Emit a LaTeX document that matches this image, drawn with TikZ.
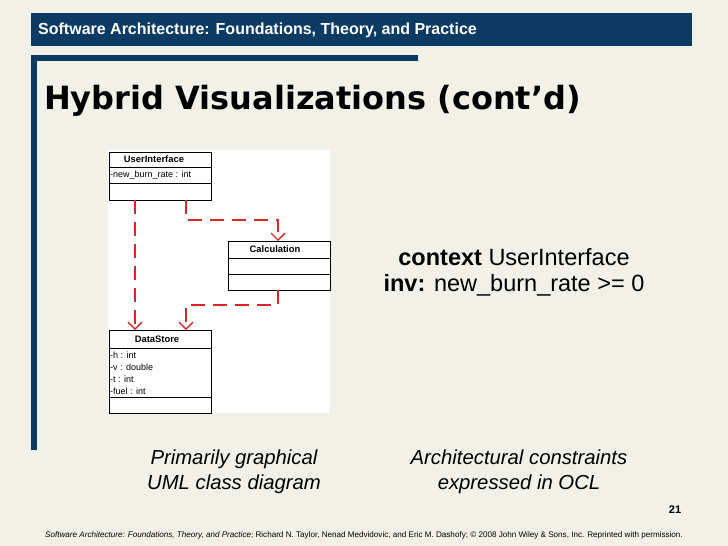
\documentclass[tikz,border=0pt]{standalone}
\usepackage{fontspec}
\setmainfont{Liberation Sans}
\newfontfamily\titlefont{DejaVu Sans}
\usetikzlibrary{arrows.meta}
\definecolor{navy}{HTML}{0B3A62}
\definecolor{bg}{HTML}{F2F1E7}
\definecolor{dred}{HTML}{D62828}
\begin{document}
\begin{tikzpicture}[x=1pt,y=-1pt,
  cls/.style={draw=black,line width=0.8pt,fill=white},
  dep/.style={draw=dred,line width=1.3pt,dash pattern=on 14pt off 8pt,-{Straight Barb[length=7pt,width=14pt]}},
  txt/.style={inner sep=0pt,anchor=west,font=\fontsize{9}{10}\selectfont}]
\fill[bg] (0,0) rectangle (728,546);
\useasboundingbox (0,0) rectangle (728,546);
\fill[navy] (31,13) rectangle (692,46);
\node[anchor=west,text=white,font=\bfseries\fontsize{16}{17}\selectfont,inner sep=0pt] (hdr) at (38,30) {Software Architecture: Foundations, Theory, and Practice};
\fill[navy] (31,55) rectangle (418,61);
\fill[navy] (31,55) rectangle (37,450);
\node[anchor=west,font=\titlefont\bfseries\fontsize{32}{36}\selectfont,inner sep=0pt] (title) at (44,101) {Hybrid Visualizations (cont’d)};
\fill[white] (108,150) rectangle (330,413);
% UserInterface
\draw[cls] (109,152) rectangle (211,200);
\draw (109,167) -- (211,167) (109,183) -- (211,183);
\node[font=\bfseries\fontsize{9.4}{10}\selectfont] (ui) at (154,159.5) {UserInterface};
\node[txt] (uia) at (110,175) {-new\_burn\_rate : int};
% Calculation
\draw[cls] (228,241) rectangle (330,290);
\draw (228,258) -- (330,258) (228,274) -- (330,274);
\node[font=\bfseries\fontsize{9.4}{10}\selectfont] (calc) at (275,249.5) {Calculation};
% DataStore
\draw[cls] (109,330) rectangle (211,413);
\draw (109,348) -- (211,348) (109,397) -- (211,397);
\node[font=\bfseries\fontsize{9.4}{10}\selectfont] (ds) at (157,339) {DataStore};
\node[txt] (d1) at (110,355) {-h : int};
\node[txt] (d2) at (110,367) {-v : double};
\node[txt] (d3) at (110,379) {-t : int};
\node[txt] (d4) at (110,391) {-fuel : int};
\coordinate (u1) at (135,200); \coordinate (u1e) at (135,330);
\coordinate (u2) at (186,200); \coordinate (u2e) at (278,241);
\coordinate (c1) at (278,290); \coordinate (c1e) at (186,330);
\draw[dep] (u1) -- (u1e);
\draw[dep] (u2) |- (278,220) -- (u2e);
\draw[dep] (c1) |- (186,305) -- (c1e);
\node[font=\fontsize{23.5}{26}\selectfont] (ctx) at (514,257) {\textbf{context} UserInterface};
\node[font=\fontsize{23.5}{26}\selectfont] (inv) at (514,285) {\textbf{inv:} new\_burn\_rate >= 0};
\node[font=\itshape\fontsize{20.3}{25}\selectfont,align=center] (cap1) at (234,472) {Primarily graphical\\UML class diagram};
\node[font=\itshape\fontsize{20.3}{25}\selectfont,align=center] (cap2) at (519,472) {Architectural constraints\\expressed in OCL};
\node[font=\bfseries\fontsize{11}{12}\selectfont] (pg) at (675,510) {21};
\node[anchor=west,font=\fontsize{8.1}{9}\selectfont,inner sep=0pt] (foot) at (45,535) {\textit{Software Architecture: Foundations, Theory, and Practice}; Richard N. Taylor, Nenad Medvidovic, and Eric M. Dashofy; © 2008 John Wiley \& Sons, Inc. Reprinted with permission.};
\end{tikzpicture}
\end{document}
